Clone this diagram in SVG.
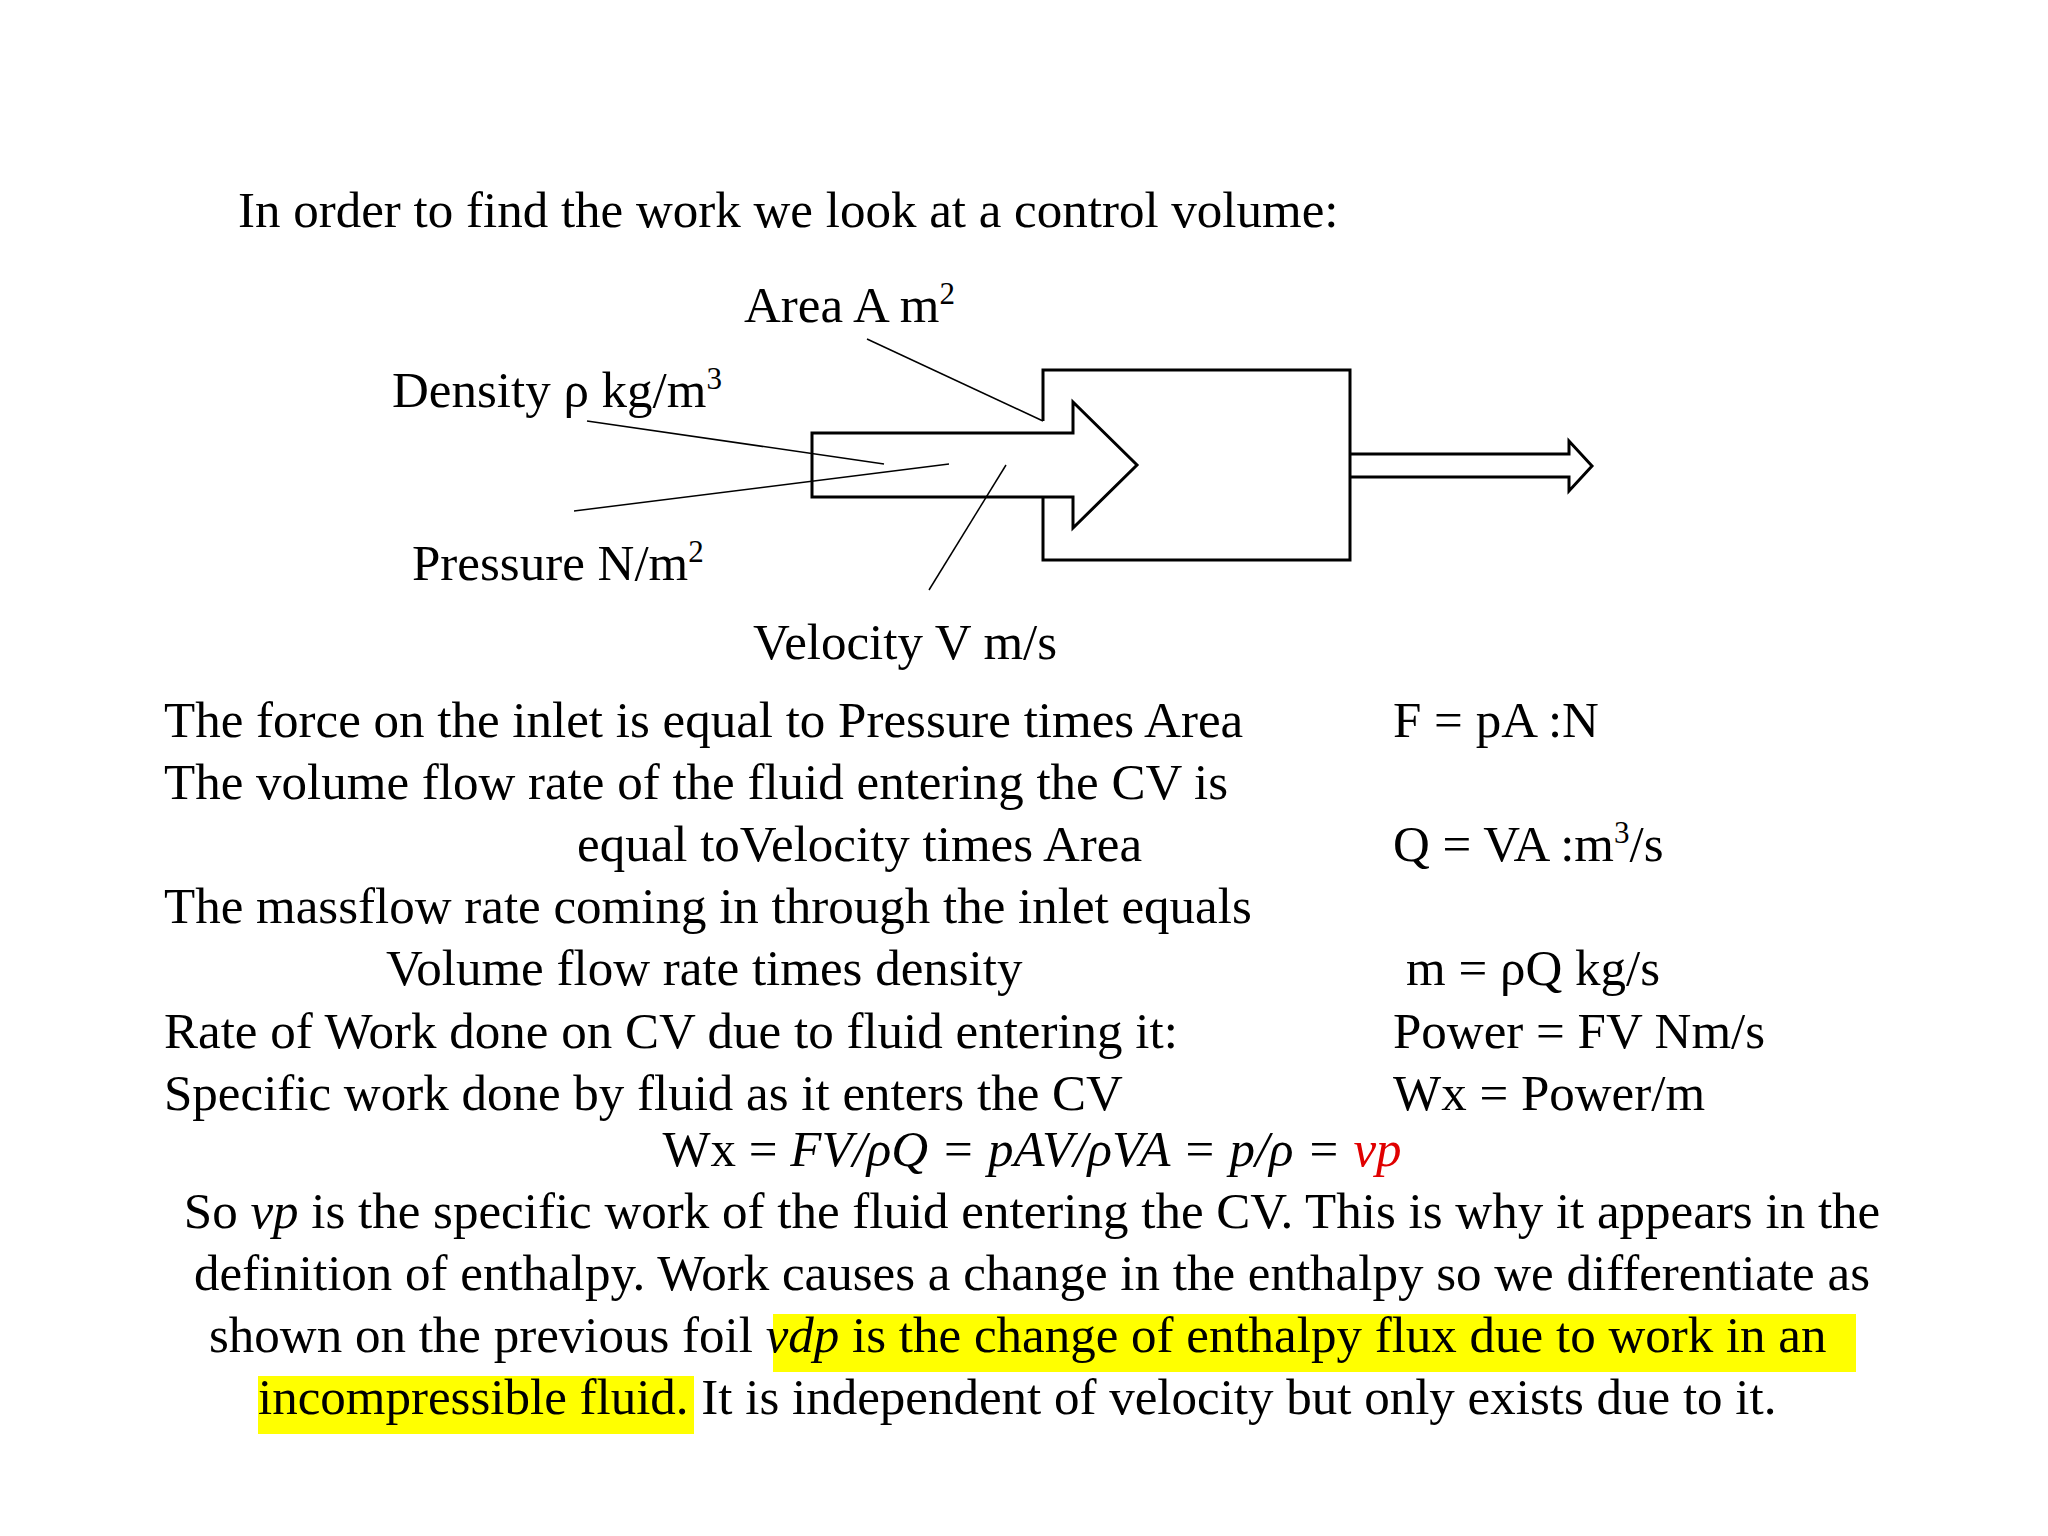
<svg xmlns="http://www.w3.org/2000/svg" width="2048" height="1536" viewBox="0 0 2048 1536">
<style>
text{font-family:"Liberation Serif","Times New Roman",serif;font-size:51px;fill:#000}
.s{stroke:#000;stroke-width:3;fill:none}
.l{stroke:#000;stroke-width:1.5;fill:none}
.i{font-style:italic}
</style>
<rect width="2048" height="1536" fill="#fff"/>
<text x="238" y="227" font-size="52">In order to find the work we look at a control volume:</text>
<g transform="translate(-10,-4)">
<g id="cv"><path class="s" d="M1053,425 V374 H1360 V564 H1053 V501"/></g>
<g id="inlet"><path class="s" d="M1083,437 H822 V501 H1083 V532 L1147,469 L1083,406 Z" fill="#fff"/></g>
<g id="outlet"><path class="s" d="M1360,458 H1579 V445 L1602,470 L1579,495 V481 H1360"/></g>
<g id="connectors">
<line class="l" x1="877" y1="343" x2="1053" y2="425"/>
<line class="l" x1="597" y1="425" x2="894" y2="468"/>
<line class="l" x1="584" y1="515" x2="959" y2="468"/>
<line class="l" x1="939" y1="594" x2="1016" y2="469"/>
</g>
</g>
<g id="labels">
<text x="744" y="322">Area A m<tspan font-size="31" dy="-18">2</tspan></text>
<text x="392" y="407">Density ρ kg/m<tspan font-size="31" dy="-18">3</tspan></text>
<text x="412" y="580">Pressure N/m<tspan font-size="31" dy="-18">2</tspan></text>
<text x="753" y="659">Velocity V m/s</text>
</g>
<g id="body">
<text x="164" y="737">The force on the inlet is equal to Pressure times Area</text>
<text x="1393" y="737">F = pA :N</text>
<text x="164" y="799">The volume flow rate of the fluid entering the CV is</text>
<text x="577" y="861">equal toVelocity times Area</text>
<text x="1393" y="861">Q = VA :m<tspan font-size="31" dy="-18">3</tspan><tspan dy="18">/s</tspan></text>
<text x="164" y="923">The massflow rate coming in through the inlet equals</text>
<text x="386" y="985">Volume flow rate times density</text>
<text x="1406" y="985">m = ρQ kg/s</text>
<text x="164" y="1048">Rate of Work done on CV due to fluid entering it:</text>
<text x="1393" y="1048">Power = FV Nm/s</text>
<text x="164" y="1110">Specific work done by fluid as it enters the CV</text>
<text x="1393" y="1110">Wx = Power/m</text>
<text x="1032" y="1166" text-anchor="middle">Wx = <tspan class="i">FV/ρQ = pAV/ρVA = p/ρ = </tspan><tspan class="i" fill="#e00000">vp</tspan></text>
<rect x="773" y="1314" width="1083" height="58" fill="#ffff00"/>
<rect x="258" y="1376" width="436" height="58" fill="#ffff00"/>
<text x="1032" y="1228" text-anchor="middle">So <tspan class="i">vp</tspan> is the specific work of the fluid entering the CV. This is why it appears in the</text>
<text x="1032" y="1290" text-anchor="middle">definition of enthalpy. Work causes a change in the enthalpy so we differentiate as</text>
<text x="209" y="1352">shown on the previous foil <tspan class="i">vdp</tspan> is the change of enthalpy flux due to work in an</text>
<text x="258" y="1414">incompressible fluid. It is independent of velocity but only exists due to it.</text>
</g>
</svg>
